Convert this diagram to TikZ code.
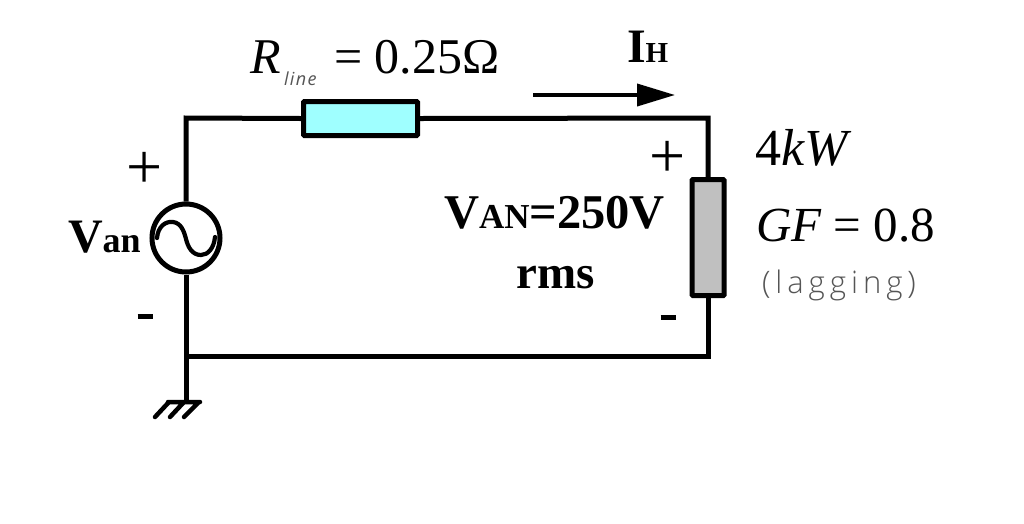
\documentclass[tikz,border=0pt]{standalone}
\usepackage{fontspec}
\setmainfont{Liberation Serif}
\newfontfamily\handfont[LetterSpace=16]{Open Sans Light}
\newfontfamily\subfont[LetterSpace=8]{Open Sans}
\usetikzlibrary{arrows.meta}
\newcommand{\fs}[1]{\fontsize{#1}{#1}\selectfont}
\definecolor{wireblack}{HTML}{000000}
\definecolor{rescyan}{HTML}{9FFFFF}
\definecolor{loadgray}{HTML}{C0C0C0}
\definecolor{handgray}{HTML}{555555}
\tikzset{
  x=1pt,y=-1pt,
  wire/.style={line width=5pt,draw=wireblack,line join=miter},
  comp/.style={draw=wireblack,line width=5pt,inner sep=0pt,rounded corners=0.8pt},
  txt/.style={inner sep=0pt,outer sep=0pt,anchor=base west},
  pol/.style={inner sep=0pt,outer sep=0pt,anchor=center},
}
\begin{document}
\begin{tikzpicture}
\useasboundingbox (0,0) rectangle (1024,523);
% components
\node[comp,fill=rescyan,minimum width=114pt,minimum height=34pt] (res) at (360.5,118.5) {};
\node[comp,fill=loadgray,minimum width=32pt,minimum height=116pt] (load) at (708,237.5) {};
\node[circle,draw=wireblack,line width=5pt,minimum size=68pt,inner sep=0pt] (src) at (186,238) {};
% junctions and corners
\coordinate (tl) at (186,118);
\coordinate (tr) at (708,118);
\coordinate (br) at (708,356);
\coordinate (bl) at (186,356);
\coordinate (gnd) at (186,401);
\coordinate (arrowa) at (533,95);
\coordinate (arrowb) at (675,95);
% wires
\draw[wire] (src.north) -- (tl) -- (res.west);
\draw[wire] (res.east) -- (tr) -- (load.north);
\draw[wire] (load.south) -- (br) -- (bl);
\draw[wire] (src.south) -- (gnd);
% ground symbol
\draw[line width=4.5pt,draw=wireblack,line cap=round]
  (168,402) -- (200,402)
  (169,402) -- (155,417)
  (184,402) -- (170,417)
  (199,402) -- (184,417);
% sine in source
\draw[line width=4.2pt,draw=wireblack,line cap=round]
  (157,238) .. controls (158,226) and (166,221) .. (173,222)
  .. controls (181,223) and (184,231) .. (186,239)
  .. controls (188,247) and (192,255) .. (201,255)
  .. controls (208,255) and (214,248) .. (215,237);
% current arrow
\draw[line width=3.8pt,draw=wireblack,-{Triangle[length=38pt,width=22pt]}] (arrowa) -- (arrowb);
% text
\node[txt] (rlabel) at (250,73) {\fs{50}\textit{R}};
\node[txt,text=handgray] (rsub) at (284,85) {\subfont\fs{18}\textit{line}};
\node[txt] (rval) at (334,73) {\fs{50}= 0.25Ω};
\node[txt] (ih) at (627,62) {\fs{48}\textbf{I}\fs{29}\textbf{H}};
\node[pol] (plusl) at (145,170) {\fs{64}+};
\node[pol] (plusr) at (668,159) {\fs{64}+};
\node[pol] (minusl) at (145,316) {\rule{15pt}{5pt}};
\node[pol] (minusr) at (668,317) {\rule{15pt}{5pt}};
\node[txt] (van) at (68,252) {\fs{48}\textbf{V}\fs{36}\textbf{an}};
\node[txt] (vbig) at (444,228) {\fs{48.5}\textbf{V}\fs{35}\textbf{AN}\fs{48.5}\textbf{=250V}};
\node[txt,anchor=base] (rms) at (556,288) {\fs{47}\textbf{rms}};
\node[txt] (kw) at (755,165) {\fs{52}4\textit{kW}};
\node[txt] (gf) at (756,241) {\fs{49}\textit{GF} = 0.8};
\node[txt,text=handgray] (lag) at (762,293) {\handfont\fs{31}(lagging)};
\end{tikzpicture}
\end{document}
